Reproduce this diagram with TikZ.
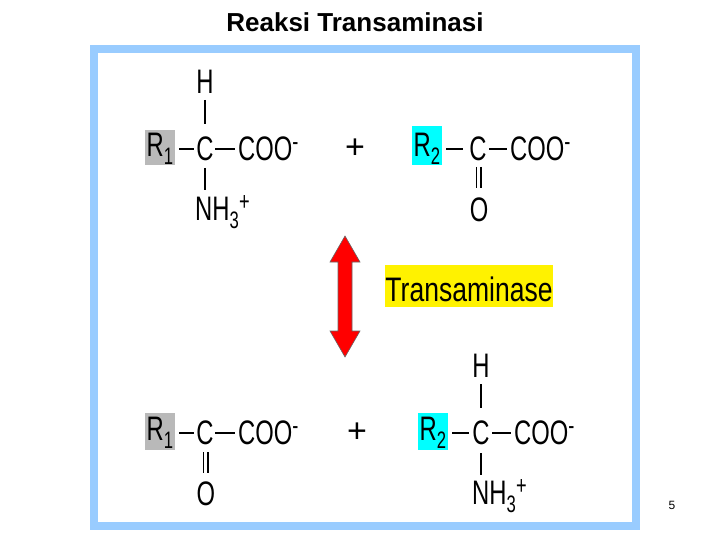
\documentclass[tikz,border=0pt]{standalone}
\usepackage{fontspec}
\setmainfont{Liberation Sans}
\usepackage{graphicx}
\begin{document}
\begin{tikzpicture}[x=1pt,y=-1pt,
  ch/.style={inner sep=0pt,font=\fontsize{34}{34}\selectfont},
  bd/.style={line width=1.6pt,black}]
\useasboundingbox (0,0) rectangle (720,540);
\newcommand{\nf}[1]{\scalebox{0.7}[1]{#1}}
\newcommand{\sups}[1]{\raisebox{10pt}{\fontsize{26}{26}\selectfont #1}}
\node[inner sep=0pt,font=\fontsize{26}{26}\selectfont\bfseries] (title) at (355,22) {Reaksi Transaminasi};
\draw[line width=8pt,color={rgb,255:red,153;green,204;blue,255}] (94,49) rectangle (636,526);
\definecolor{cy}{RGB}{0,255,255}
% top left
\fill[gray!55] (145,130) rectangle (175,165);
\node[ch] (r1a) at (160,149) {\nf{R$_{\mathrm 1}$}};
\node[ch] (c1a) at (205,149) {\nf{C}};
\node[ch,anchor=west] (cooa) at (238,149) {\nf{COO\sups{-}}};
\node[ch] (ha) at (205,82) {\nf{H}};
\node[ch,anchor=west] (nha) at (195,212) {\nf{NH$_{\mathrm 3}$\sups{+}}};
\draw[bd] (179,149) -- (194,149);
\draw[bd] (215,149) -- (235,149);
\draw[bd] (205,100) -- (205,124);
\draw[bd] (205,168) -- (205,190);
\node[ch] (plusa) at (355,149) {+};
% top right
\fill[cy] (412,126) rectangle (442,165);
\node[ch] (r2a) at (427,149) {\nf{R$_{\mathrm 2}$}};
\node[ch] (c2a) at (478,149) {\nf{C}};
\node[ch,anchor=west] (coob) at (510,149) {\nf{COO\sups{-}}};
\node[ch] (oa) at (479,210) {\nf{O}};
\draw[bd] (446,149) -- (463,149);
\draw[bd] (489,149) -- (507,149);
\draw[line width=1.2pt] (476.5,167) -- (476.5,188) (481,167) -- (481,188);
% arrow
\fill[red,draw=black!60,line width=0.6pt] (345,236) -- (360,262) -- (352,262) -- (352,331) -- (360,331) -- (345,357) -- (330,331) -- (338,331) -- (338,262) -- (330,262) -- cycle;
\fill[yellow] (385,265) rectangle (553,307);
\node[ch] (enz) at (469,289) {\scalebox{0.78}[1]{Transaminase}};
% bottom left
\fill[gray!55] (145,413) rectangle (175,450);
\node[ch] (r1b) at (160,433) {\nf{R$_{\mathrm 1}$}};
\node[ch] (c1b) at (205,433) {\nf{C}};
\node[ch,anchor=west] (cooc) at (238,433) {\nf{COO\sups{-}}};
\node[ch] (ob) at (206,494) {\nf{O}};
\draw[bd] (179,433) -- (194,433);
\draw[bd] (215,433) -- (235,433);
\draw[line width=1.2pt] (203.5,452) -- (203.5,473) (208,452) -- (208,473);
\node[ch] (plusb) at (357,433) {+};
% bottom right
\fill[cy] (418,413) rectangle (448,450);
\node[ch] (r2b) at (433,433) {\nf{R$_{\mathrm 2}$}};
\node[ch] (c2b) at (481,433) {\nf{C}};
\node[ch,anchor=west] (cood) at (514,433) {\nf{COO\sups{-}}};
\node[ch] (hb) at (481,366) {\nf{H}};
\node[ch,anchor=west] (nhb) at (472,496) {\nf{NH$_{\mathrm 3}$\sups{+}}};
\draw[bd] (452,433) -- (469,433);
\draw[bd] (492,433) -- (511,433);
\draw[bd] (481,384) -- (481,408);
\draw[bd] (481,453) -- (481,475);
\node[inner sep=0pt,font=\fontsize{12}{12}\selectfont] (pg) at (672,505) {5};
\end{tikzpicture}
\end{document}
